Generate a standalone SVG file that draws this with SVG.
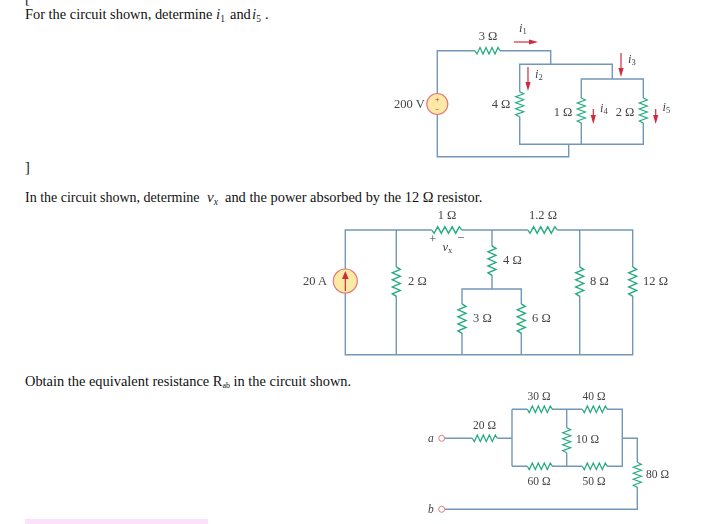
<svg xmlns="http://www.w3.org/2000/svg" width="703" height="524" viewBox="0 0 703 524">
<style>
text{font-family:"Liberation Serif","Times New Roman",serif}
.q{font-size:14.4px;fill:#111}
.m{font-size:15px;fill:#222;font-style:italic}
.l1{font-size:12.5px;fill:#444}
.l3{font-size:11.5px;fill:#444}
.i{font-style:italic}
.s{font-size:9.5px}
.n{font-size:8.5px;font-style:normal}
.w{fill:none;stroke:#7297bb;stroke-width:1.4}
.r{fill:none;stroke:#22ab7c;stroke-width:1.2;stroke-linejoin:miter}
.a{fill:none;stroke:#cf2a3c;stroke-width:1.2}
.h{fill:#cf2a3c}
.src{fill:#fde9a6;stroke:#e2787a;stroke-width:1.2}
.t{fill:#fff;stroke:#e2787a;stroke-width:1}
.sg{font-size:8px;fill:#b3263a}
</style>
<defs>
<filter id="soft" x="-2%" y="-2%" width="104%" height="104%"><feGaussianBlur stdDeviation="0.35"/></filter>
<path id="rh" d="M0 0L2 3.300L5 -3.300L8 3.300L11 -3.300L14 3.300L17 -3.300L20 3.300L23 -3.300L25 0"/>
<path id="rv" d="M0 0L4 2L-4 5L4 8L-4 11L4 14L-4 17L4 20L-4 23L0 25"/>
<path id="ar" d="M0 0L-2.600 -9L2.600 -9Z"/>
</defs>
<rect width="703" height="524" fill="#fff"/>
<rect x="25" y="519" width="183" height="5" fill="#fce1fb"/>

<g id="text">
<text class="q" x="25" y="3">[</text>
<text class="q" x="25" y="19">For the circuit shown, determine</text>
<text class="m" x="216" y="19">i<tspan class="s" dy="3" font-style="normal">1</tspan></text>
<text class="q" x="230" y="19">and</text>
<text class="m" x="252" y="19">i<tspan class="s" dy="3" font-style="normal">5</tspan></text>
<text class="q" x="265" y="19">.</text>
<text class="q" x="25" y="172">]</text>
<text class="q" x="25" y="202" font-size="14" style="font-size:14px">In the circuit shown, determine</text>
<text class="m" x="207" y="202">v<tspan class="s" dy="3">x</tspan></text>
<text class="q" x="225" y="202">and the power absorbed by the 12 Ω resistor.</text>
<text class="q" x="25" y="386">Obtain the equivalent resistance R<tspan font-size="8" dy="2">ab</tspan><tspan dy="-2"> in the circuit shown.</tspan></text>
</g>

<g id="circuits" filter="url(#soft)">
<g id="connectors">
<path class="w" d="M437.300 93V50.700H475M500 50.700H550.700V64.300M519.700 91.700V64.300H612.300V79M581.300 98V79H643.300V98M519.700 116.700V144.300H643.300V123M581.300 123V144.300M568.700 144.300V156.700H437.300V115"/>
<path class="w" d="M345.300 269V230H431.700M461.700 230H527.700M557.300 230H632.700V267M396.300 230V267M396.300 296V354.700M345.300 293V354.700H632.700V296M492 230V246M492 275V289M462 304V289H521.300V304M462 333V354.700M521.300 333V354.700M579.700 230V267M579.700 296V354.700"/>
<path class="w" d="M445 438.300H472.300M497.300 438.300H512M512 409.300V466.300M512 409.300H527.300M552 409.300H582.300M607 409.300H622.300V466.300H607M582.300 466.300H552M527.300 466.300H512M566.700 409.300V427.700M566.700 452.700V466.300M622.300 438.300H637.300V462.300M637.300 487V509.300H445"/>
</g>

<g id="c1-source">
<circle class="src" cx="437.300" cy="104" r="10.500"/>
<text class="sg" x="437.300" y="102" text-anchor="middle">+</text>
<text class="sg" x="437.300" y="111.500" text-anchor="middle">−</text>
<text class="l1" x="394" y="108">200 V</text>
</g>
<g id="c1-r3"><use href="#rh" class="r" x="475" y="50.700"/><text class="l1" x="488" y="40" text-anchor="middle">3 Ω</text></g>
<g id="c1-r4"><use href="#rv" class="r" x="519.700" y="91.700"/><text class="l1" x="501" y="108" text-anchor="middle">4 Ω</text></g>
<g id="c1-r1"><use href="#rv" class="r" x="581.300" y="98"/><text class="l1" x="563" y="116" text-anchor="middle">1 Ω</text></g>
<g id="c1-r2"><use href="#rv" class="r" x="643.300" y="98"/><text class="l1" x="625" y="116" text-anchor="middle">2 Ω</text></g>
<g id="c1-i1"><path class="a" d="M514 42H530"/><path class="h" d="M538 42L529 39.400V44.600Z"/><text class="l1 i" x="519" y="32">i<tspan class="n" dy="2">1</tspan></text></g>
<g id="c1-i2"><path class="a" d="M528 67V83"/><use href="#ar" class="h" x="528" y="91"/><text class="l1 i" x="535" y="78">i<tspan class="n" dy="2">2</tspan></text></g>
<g id="c1-i3"><path class="a" d="M621 53V69"/><use href="#ar" class="h" x="621" y="77"/><text class="l1 i" x="628" y="63">i<tspan class="n" dy="2">3</tspan></text></g>
<g id="c1-i4"><path class="a" d="M593.300 109V116"/><use href="#ar" class="h" x="593.300" y="124"/><text class="l1 i" x="600" y="112">i<tspan class="n" dy="2">4</tspan></text></g>
<g id="c1-i5"><path class="a" d="M655.700 109V116"/><use href="#ar" class="h" x="655.700" y="124"/><text class="l1 i" x="662.500" y="111">i<tspan class="n" dy="2">5</tspan></text></g>

<g id="c2-source">
<circle class="src" cx="345.300" cy="281" r="12"/>
<path class="a" d="M345.300 276V291"/><path class="h" d="M345.300 271L342 279H348.600Z"/>
<text class="l1" x="303" y="285" font-size="13">20 A</text>
</g>
<g id="c2-r1"><use href="#rh" class="r" transform="translate(431.700 230) scale(1.200 1)"/><text class="l1" x="447" y="218.500" text-anchor="middle">1 Ω</text>
<text class="l1" x="432.700" y="243" text-anchor="middle">+</text><text class="l1" x="460.700" y="242" text-anchor="middle">−</text>
<text class="l1 i" x="442.500" y="251">v<tspan class="n" dy="2">x</tspan></text></g>
<g id="c2-r12"><use href="#rh" class="r" transform="translate(527.700 230) scale(1.180 1)"/><text class="l1" x="543" y="218.500" text-anchor="middle">1.2 Ω</text></g>
<g id="c2-r2"><use href="#rv" class="r" transform="translate(396.300 267) scale(1 1.170)"/><text class="l1" x="408" y="285">2 Ω</text></g>
<g id="c2-r4"><use href="#rv" class="r" transform="translate(492 246) scale(1 1.170)"/><text class="l1" x="503" y="264">4 Ω</text></g>
<g id="c2-r3"><use href="#rv" class="r" transform="translate(462 304) scale(1 1.170)"/><text class="l1" x="473" y="322">3 Ω</text></g>
<g id="c2-r6"><use href="#rv" class="r" transform="translate(521.300 304) scale(1 1.170)"/><text class="l1" x="532" y="322">6 Ω</text></g>
<g id="c2-r8"><use href="#rv" class="r" transform="translate(579.700 267) scale(1 1.170)"/><text class="l1" x="590" y="285">8 Ω</text></g>
<g id="c2-r12b"><use href="#rv" class="r" transform="translate(632.700 267) scale(1 1.170)"/><text class="l1" x="643" y="285">12 Ω</text></g>

<g id="c3-a"><circle class="t" cx="441.700" cy="438.300" r="3"/><text class="l3 i" x="428" y="442">a</text></g>
<g id="c3-b"><circle class="t" cx="441.700" cy="509.300" r="3"/><text class="l3 i" x="428" y="513">b</text></g>
<g id="c3-r20"><use href="#rh" class="r" x="472.300" y="438.300"/><text class="l3" x="484.500" y="429" text-anchor="middle">20 Ω</text></g>
<g id="c3-r30"><use href="#rh" class="r" x="527.300" y="409.300"/><text class="l3" x="539" y="400" text-anchor="middle">30 Ω</text></g>
<g id="c3-r40"><use href="#rh" class="r" x="582.300" y="409.300"/><text class="l3" x="594" y="400" text-anchor="middle">40 Ω</text></g>
<g id="c3-r60"><use href="#rh" class="r" x="527.300" y="466.300"/><text class="l3" x="539" y="485" text-anchor="middle">60 Ω</text></g>
<g id="c3-r50"><use href="#rh" class="r" x="582.300" y="466.300"/><text class="l3" x="594" y="485" text-anchor="middle">50 Ω</text></g>
<g id="c3-r10"><use href="#rv" class="r" x="566.700" y="427.700"/><text class="l3" x="576" y="443">10 Ω</text></g>
<g id="c3-r80"><use href="#rv" class="r" x="637.300" y="462.300"/><text class="l3" x="646" y="478">80 Ω</text></g>
</g>
</svg>
